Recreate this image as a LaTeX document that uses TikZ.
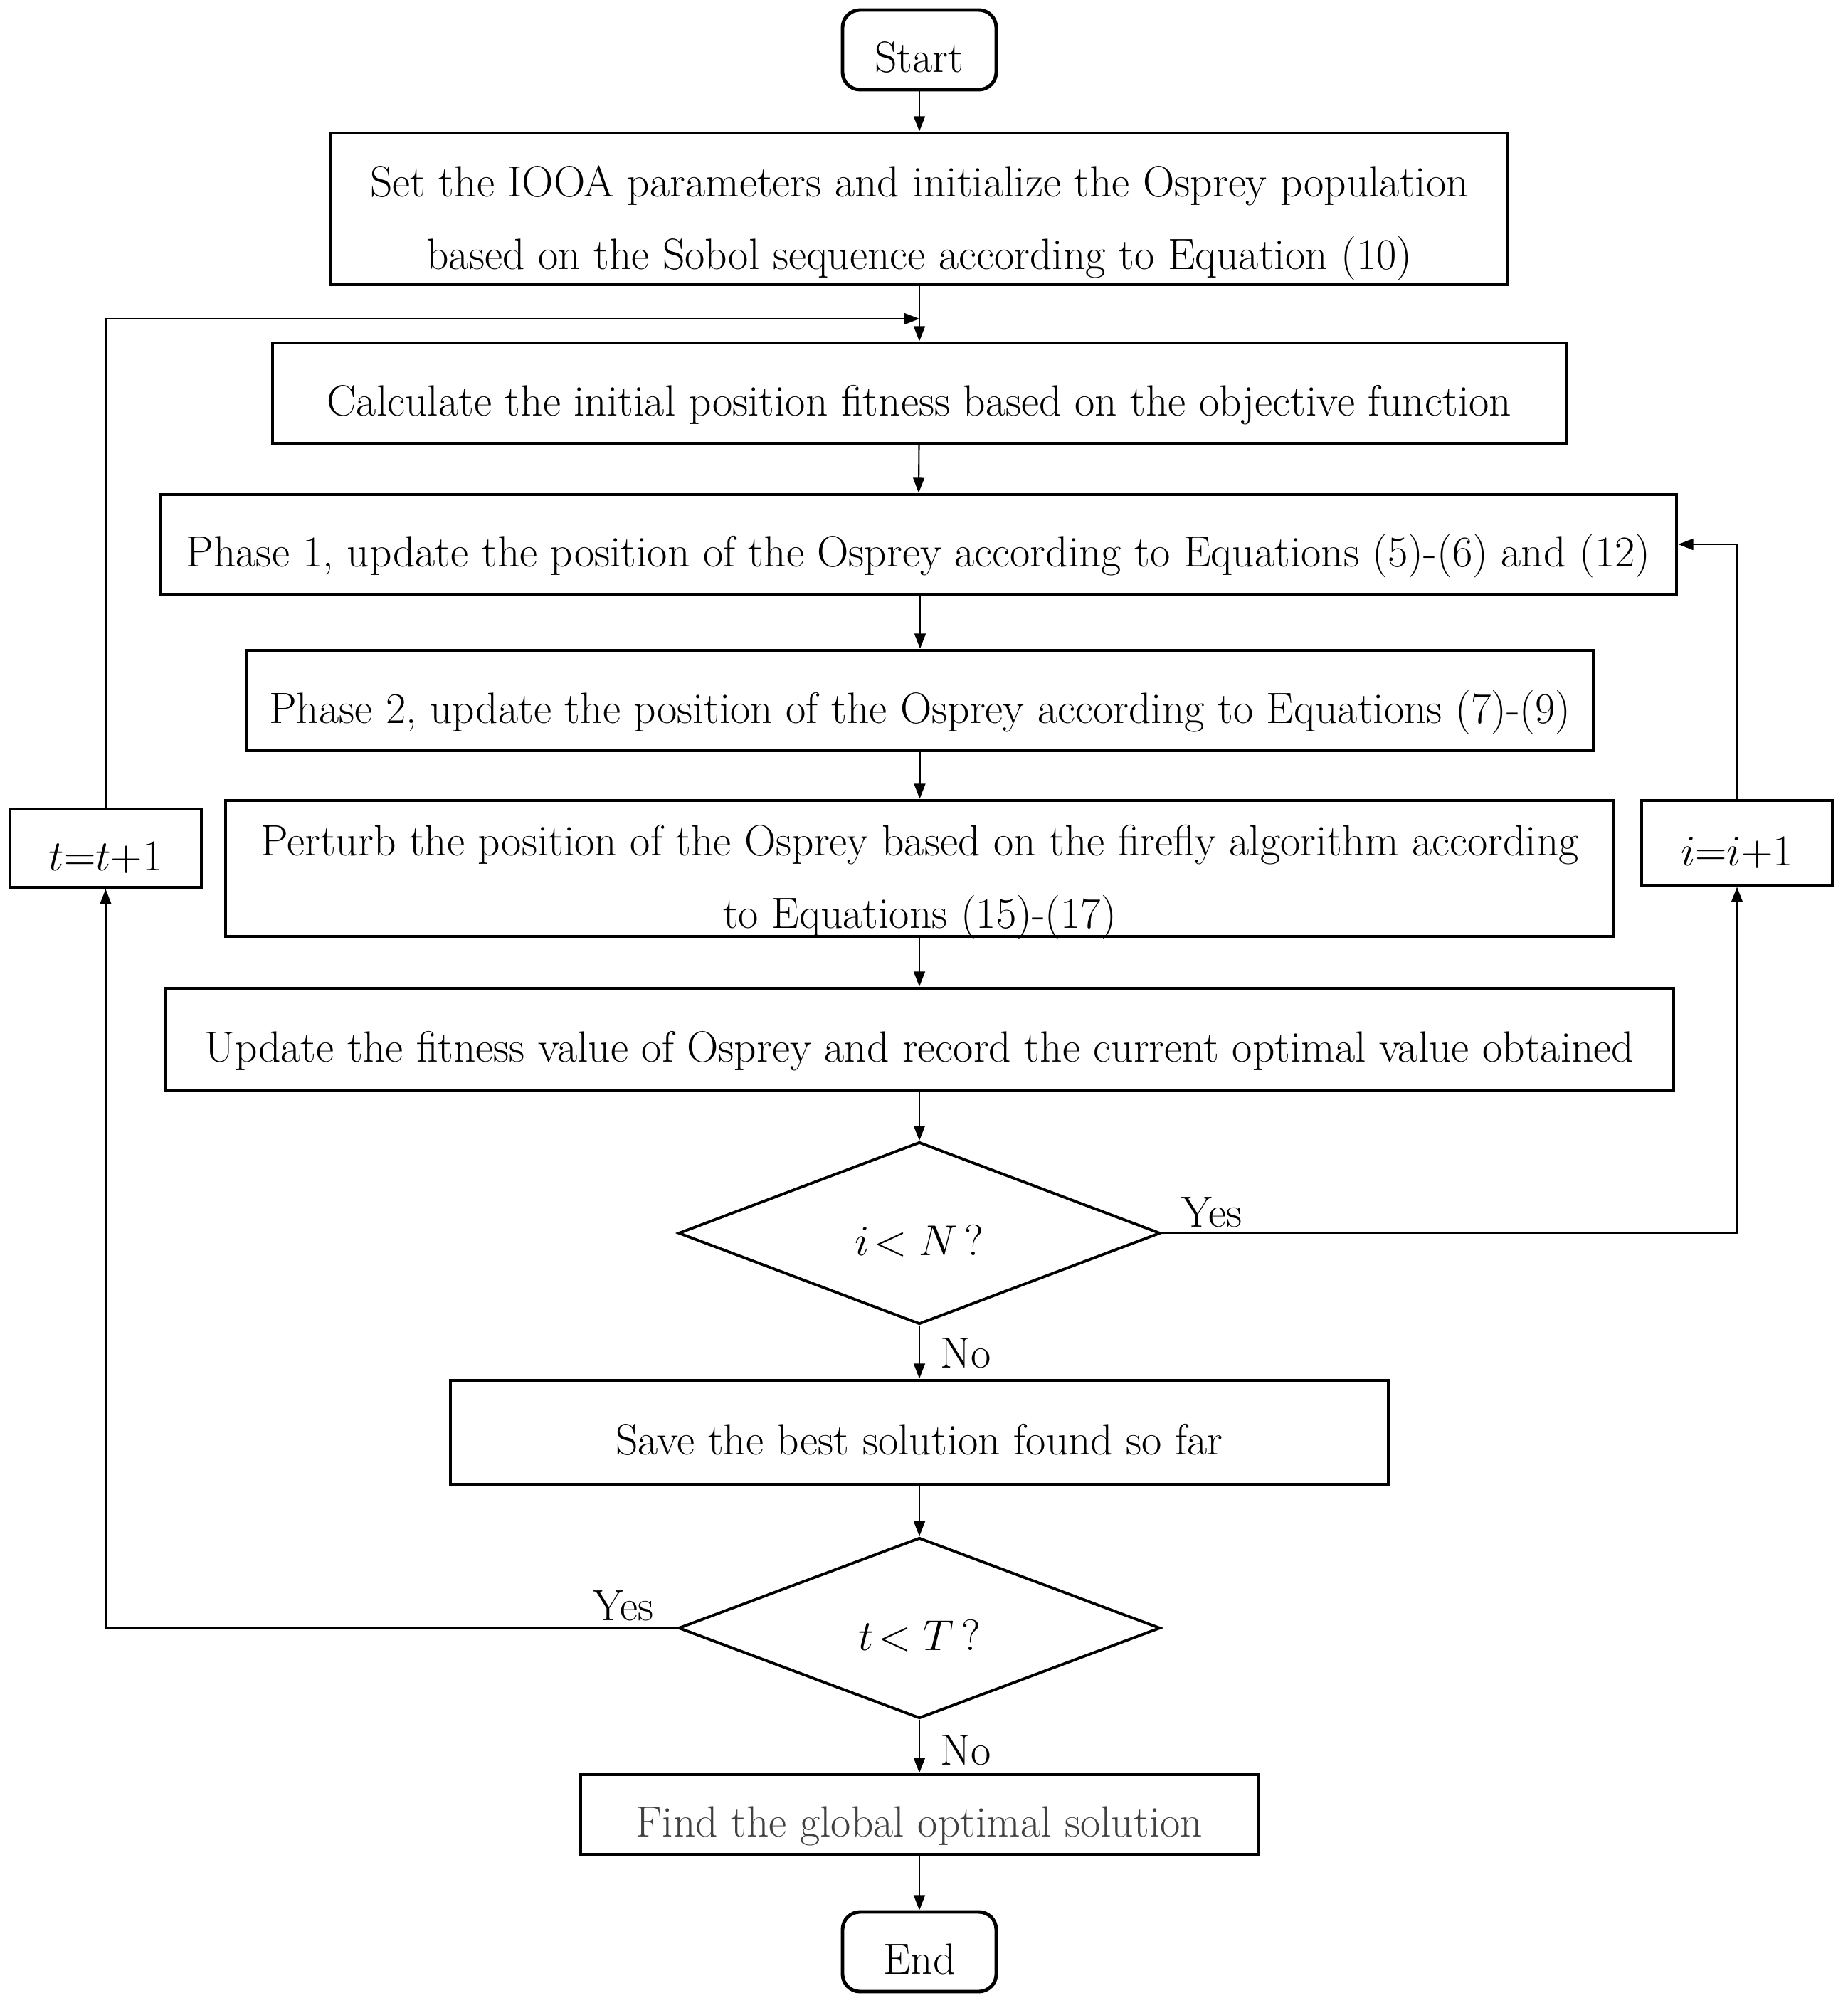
\documentclass[tikz,border=0pt]{standalone}
\usetikzlibrary{shapes.geometric,arrows.meta}
\begin{document}
\begin{tikzpicture}[
  font=\fontsize{17.5}{29}\selectfont,
  boxnode/.style={draw, line width=1.4pt, rectangle, inner sep=0pt, align=center},
  oneline/.style={text height=19pt, text depth=1pt},
  termnode/.style={draw, line width=1.4pt, rectangle, rounded corners=7pt, inner sep=0pt, minimum width=2.16cm, minimum height=1.12cm, oneline},
  decnode/.style={draw, line width=1.1pt, diamond, inner sep=0pt, minimum width=6.77cm, oneline},
  conn/.style={line width=0.6pt, -{Triangle[length=6pt,width=4.5pt]}},
  lbl/.style={inner sep=0pt}
]
\useasboundingbox (0,0) rectangle (25.97,-28.22);

\node[termnode] (start) at (12.92,-0.70) {Start};
\node[boxnode, minimum width=16.54cm, minimum height=2.13cm] (b1) at (12.92,-2.935)
  {\rule{0pt}{23.5pt}Set the IOOA parameters and initialize the Osprey population\\based on the Sobol sequence according to Equation (10)};
\node[boxnode, oneline, minimum width=18.18cm, minimum height=1.41cm] (b2) at (12.92,-5.525)
  {Calculate the initial position fitness based on the objective function};
\node[boxnode, oneline, minimum width=21.31cm, minimum height=1.40cm] (b3) at (12.905,-7.65)
  {Phase 1, update the position of the Osprey according to Equations (5)-(6) and (12)};
\node[boxnode, oneline, minimum width=18.92cm, minimum height=1.41cm] (b4) at (12.93,-9.845)
  {Phase 2, update the position of the Osprey according to Equations (7)-(9)};
\node[boxnode, text depth=0pt, minimum width=19.51cm, minimum height=1.91cm] (b5) at (12.925,-12.205)
  {\rule{0pt}{19pt}Perturb the position of the Osprey based on the firefly algorithm according\\to Equations (15)-(17)};
\node[boxnode, oneline, minimum width=21.20cm, minimum height=1.43cm] (b6) at (12.92,-14.605)
  {Update the fitness value of Osprey and record the current optimal value obtained};
\node[decnode, minimum height=2.56cm] (d1) at (12.92,-17.33) {$i\!<N$\,?};
\node[boxnode, oneline, minimum width=13.18cm, minimum height=1.46cm] (b7) at (12.92,-20.13)
  {Save the best solution found so far};
\node[decnode, minimum height=2.54cm] (d2) at (12.92,-22.88) {$t\!<T$\,?};
\node[boxnode, oneline, minimum width=9.52cm, minimum height=1.12cm, text=black!75] (b8) at (12.92,-25.50)
  {Find the global optimal solution};
\node[termnode] (end) at (12.92,-27.43) {End};
\node[boxnode, oneline, minimum width=2.69cm, minimum height=1.10cm] (tt) at (1.485,-11.92) {$t$=$t$+1};
\node[boxnode, oneline, minimum width=2.68cm, minimum height=1.19cm] (ii) at (24.41,-11.845) {$i$=$i$+1};

\coordinate (jn) at (12.92,-4.48);

\draw[conn] (start) -- (b1);
\draw[conn] (b1) -- (b2);
\draw[conn] (b2) -- (b3);
\draw[conn] (b3.south -| b4.north) -- (b4);
\draw[conn] (b4.south -| b5.north) -- (b5);
\draw[conn] (b5.south -| b6.north) -- (b6);
\draw[conn] (b6) -- (d1);
\draw[conn] (d1) -- (b7);
\draw[conn] (b7) -- (d2);
\draw[conn] (d2) -- (b8);
\draw[conn] (b8) -- (end);

\draw[conn] (d1.east) -| (ii.south);
\draw[conn] (ii.north) |- (b3.east);
\draw[conn] (d2.west) -| (tt.south);
\draw[conn] (tt.north) |- (jn);

\node[lbl] (yes1) at (17.03,-17.04) {Yes};
\node[lbl] (no1) at (13.57,-19.02) {No};
\node[lbl] (yes2) at (8.76,-22.57) {Yes};
\node[lbl] (no2) at (13.57,-24.60) {No};
\end{tikzpicture}
\end{document}
